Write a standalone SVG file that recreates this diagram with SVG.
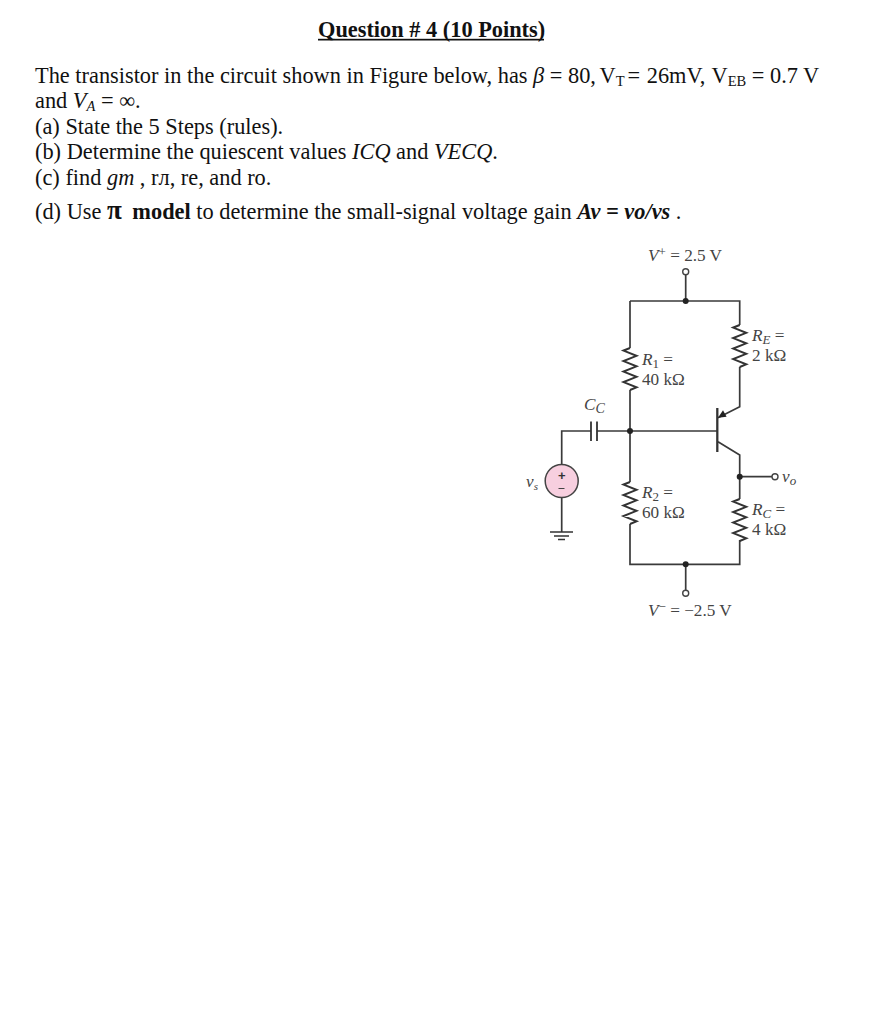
<svg xmlns="http://www.w3.org/2000/svg" width="869" height="1024" viewBox="0 0 869 1024">
<style>
text{font-family:"Liberation Serif","Times New Roman",serif;fill:#111}
.b{font-size:22.35px}
.c{font-size:17.2px;fill:#444}
.s{font-size:65%}
.w{fill:none;stroke:#3a3a3a;stroke-width:1.7}
.d{fill:#222}
.o{fill:#fff;stroke:#444;stroke-width:1.4}
</style>
<defs>
<path id="r" d="M0 0l-6.5 2.6 13 5.25-13 5.25 13 5.25-13 5.25 13 5.25-13 5.25 13 5.25-6.5 2.6" fill="none" stroke="#333" stroke-width="2"/>
</defs>
<rect width="869" height="1024" fill="#fff"/>
<g id="question">
<text x="318" y="36.500" font-size="22.35" font-weight="bold">Question # 4 (10 Points)</text>
<rect x="318" y="38.800" width="226" height="1.700" fill="#111"/>
<text class="b" x="35" y="82.500">The transistor in the circuit shown in Figure below, has <tspan font-style="italic">β</tspan> = 80, <tspan dx="-2">V</tspan><tspan class="s" dy="3">T</tspan><tspan dy="-3" dx="3">=</tspan><tspan dx="1"> 26mV, </tspan><tspan dx="1">V</tspan><tspan class="s" dy="3">EB</tspan><tspan dy="-3"> = 0.7 V</tspan></text>
<text class="b" x="35" y="107.500">and <tspan font-style="italic">V</tspan><tspan class="s" font-style="italic" dy="3">A</tspan><tspan dy="-3"> = ∞.</tspan></text>
<text class="b" x="35" y="133.500">(a) State the 5 Steps (rules).</text>
<text class="b" x="35" y="158.500">(b) Determine the quiescent values <tspan font-style="italic">ICQ</tspan> and <tspan font-style="italic">VECQ</tspan>.</text>
<text class="b" x="35" y="184.500">(c) find <tspan font-style="italic">gm</tspan> , rл, re, and ro.</text>
<text class="b" x="35" y="218.500">(d) Use <tspan font-weight="bold" font-size="27">π</tspan><tspan font-weight="bold" dx="5"> model</tspan> to determine the small-signal voltage gain <tspan font-weight="bold" font-style="italic">Av = vo/vs</tspan> .</text>
</g>
<g id="connectors">
<path class="w" d="M685.7 275V301M630 301H739.7V325M630 301V348M630 390V431M739.7 367V406.7L718 417.7"/>
<path class="w" d="M561.7 464.5V431H591M597 431H717.3M630 431V482M630 524V564.3H739.7V540M739.7 499V455L718 441.7M739.7 476.7H772M685.7 564.3V590M561.7 497.5V532"/>
</g>
<g id="v-plus"><circle class="o" cx="685.7" cy="271.7" r="3"/><circle class="d" cx="685.7" cy="301" r="3"/><text class="c" x="648" y="261"><tspan font-style="italic">V</tspan><tspan font-size="13" dy="-5">+</tspan><tspan dy="5"> = 2.5 V</tspan></text></g>
<g id="r1"><use href="#r" x="630" y="348"/><text class="c" x="642" y="364.500"><tspan font-style="italic">R</tspan><tspan font-size="13" dy="3">1</tspan><tspan dy="-3"> =</tspan></text><text class="c" x="642" y="384.500">40 kΩ</text></g>
<g id="re"><use href="#r" x="739.7" y="325"/><text class="c" x="752" y="341"><tspan font-style="italic">R</tspan><tspan font-size="13" font-style="italic" dy="3">E</tspan><tspan dy="-3"> =</tspan></text><text class="c" x="752" y="361">2 kΩ</text></g>
<g id="cc"><path d="M591 421.500V441M597 421.500V441" fill="none" stroke="#333" stroke-width="1.800"/><text class="c" x="584" y="410" font-style="italic">C<tspan font-size="14" dy="3">C</tspan></text></g>
<g id="transistor"><path d="M717.300 408V452" stroke="#333" stroke-width="2.300" fill="none"/><path class="d" d="M718 417.700l5-7.500 3.600 6.500z"/></g>
<g id="vs"><circle cx="561.700" cy="481" r="16.500" fill="#f7cfdf" stroke="#444" stroke-width="1.500"/><text x="561.700" y="479.500" font-size="13" font-weight="bold" text-anchor="middle" style="font-family:'Liberation Sans',sans-serif;fill:#333">+</text><path d="M558.500 488.500h6" stroke="#444" stroke-width="1"/><text class="c" x="526" y="487" font-style="italic">v<tspan font-size="11" dy="3">s</tspan></text></g>
<g id="ground"><path d="M550 532H573M554 536H569M558 539.500H565" stroke="#333" stroke-width="1.600" fill="none"/></g>
<g id="base-node"><circle class="d" cx="630" cy="431" r="3"/></g>
<g id="r2"><use href="#r" x="630" y="482"/><text class="c" x="642" y="498"><tspan font-style="italic">R</tspan><tspan font-size="13" dy="3">2</tspan><tspan dy="-3"> =</tspan></text><text class="c" x="642" y="518">60 kΩ</text></g>
<g id="vo"><circle class="d" cx="739.700" cy="476.700" r="3"/><circle class="o" cx="775" cy="476.700" r="3"/><text class="c" x="782" y="482" font-style="italic">v<tspan font-size="13" dy="3">o</tspan></text></g>
<g id="rc"><use href="#r" x="739.700" y="499"/><text class="c" x="752" y="515"><tspan font-style="italic">R</tspan><tspan font-size="13" font-style="italic" dy="3">C</tspan><tspan dy="-3"> =</tspan></text><text class="c" x="752" y="535">4 kΩ</text></g>
<g id="v-minus"><circle class="d" cx="685.700" cy="564.300" r="3"/><circle class="o" cx="685.700" cy="593.300" r="3"/><text class="c" x="648" y="616"><tspan font-style="italic">V</tspan><tspan font-size="13" dy="-5">−</tspan><tspan dy="5"> = −2.5 V</tspan></text></g>
</svg>
